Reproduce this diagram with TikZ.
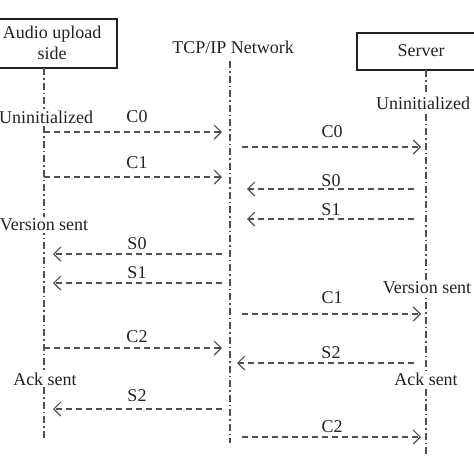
\documentclass[tikz,border=0pt]{standalone}
\usepackage{fontspec}
\setmainfont{Liberation Serif}
\usetikzlibrary{arrows.meta}
\definecolor{ln}{HTML}{505050}
\definecolor{tx}{HTML}{222222}
\begin{document}
\begin{tikzpicture}[x=1pt,y=-1pt,
  txt/.style={font=\fontsize{18}{20.5}\selectfont, text=tx, inner sep=1pt},
  statebox/.style={txt, fill=white, inner xsep=0pt, inner ysep=2pt},
  lifeline/.style={draw=ln, line width=1.1pt, dash pattern=on 7pt off 3pt on 1.5pt off 3pt},
  msg/.style={draw=ln, line width=1.1pt, dash pattern=on 6pt off 4pt, -{Straight Barb[length=7pt,width=14pt,line width=1.1pt]}},
  actor/.style={draw=tx, line width=1.1pt}]
\useasboundingbox (0,0) rectangle (474,474);
\fill[white] (0,0) rectangle (474,474);
% actor boxes
\draw[actor] (-13,19) rectangle (117,68);
\node[txt, align=center] (audio) at (52,43) {Audio upload\\side};
\draw[actor] (357,33) rectangle (485,70);
\node[txt] (server) at (421,51) {Server};
\node[txt] (net) at (233,47) {TCP/IP Network};
% lifelines
\coordinate (Ltop) at (44,68);  \coordinate (Lbot) at (44,438);
\coordinate (Mtop) at (230,61); \coordinate (Mbot) at (230,443);
\coordinate (Rtop) at (426,70); \coordinate (Rbot) at (426,455);
\draw[lifeline] (Ltop) -- (Lbot);
\draw[lifeline] (Mtop) -- (Mbot);
\draw[lifeline] (Rtop) -- (Rbot);
% states
\node[statebox] (lu) at (46,117) {Uninitialized};
\node[statebox] (ru) at (423,103) {Uninitialized};
\node[statebox] (lv) at (44,225) {Version sent};
\node[statebox] (rv) at (427,288) {Version sent};
\node[statebox] (la) at (45,379) {Ack sent};
\node[statebox] (ra) at (426,379) {Ack sent};
% message end points
\coordinate (c0a) at (44,132);  \coordinate (c0b) at (222,132);
\coordinate (c0c) at (242,147); \coordinate (c0d) at (421,147);
\coordinate (c1a) at (44,177);  \coordinate (c1b) at (222,177);
\coordinate (s0a) at (414,189); \coordinate (s0b) at (247,189);
\coordinate (s1a) at (414,219); \coordinate (s1b) at (247,219);
\coordinate (s0c) at (222,254); \coordinate (s0d) at (53,254);
\coordinate (s1c) at (222,283); \coordinate (s1d) at (53,283);
\coordinate (c1c) at (242,314); \coordinate (c1d) at (421,314);
\coordinate (c2a) at (44,348);  \coordinate (c2b) at (222,348);
\coordinate (s2a) at (414,363); \coordinate (s2b) at (237,363);
\coordinate (s2c) at (222,409); \coordinate (s2d) at (53,409);
\coordinate (c2c) at (242,437); \coordinate (c2d) at (421,437);
% messages
\draw[msg] (c0a) -- (c0b);
\draw[msg] (c0c) -- (c0d);
\draw[msg] (c1a) -- (c1b);
\draw[msg] (s0a) -- (s0b);
\draw[msg] (s1a) -- (s1b);
\draw[msg] (s0c) -- (s0d);
\draw[msg] (s1c) -- (s1d);
\draw[msg] (c1c) -- (c1d);
\draw[msg] (c2a) -- (c2b);
\draw[msg] (s2a) -- (s2b);
\draw[msg] (s2c) -- (s2d);
\draw[msg] (c2c) -- (c2d);
% labels
\node[txt] (lc0) at (137,117) {C0};
\node[txt] (lc0r) at (332,132) {C0};
\node[txt] (lc1) at (137,163) {C1};
\node[txt] (ls0r) at (331,181) {S0};
\node[txt] (ls1r) at (331,210) {S1};
\node[txt] (ls0) at (137,244) {S0};
\node[txt] (ls1) at (137,273) {S1};
\node[txt] (lc1r) at (332,298) {C1};
\node[txt] (lc2) at (137,337) {C2};
\node[txt] (ls2r) at (331,353) {S2};
\node[txt] (ls2) at (137,396) {S2};
\node[txt] (lc2r) at (332,427) {C2};
\end{tikzpicture}
\end{document}
